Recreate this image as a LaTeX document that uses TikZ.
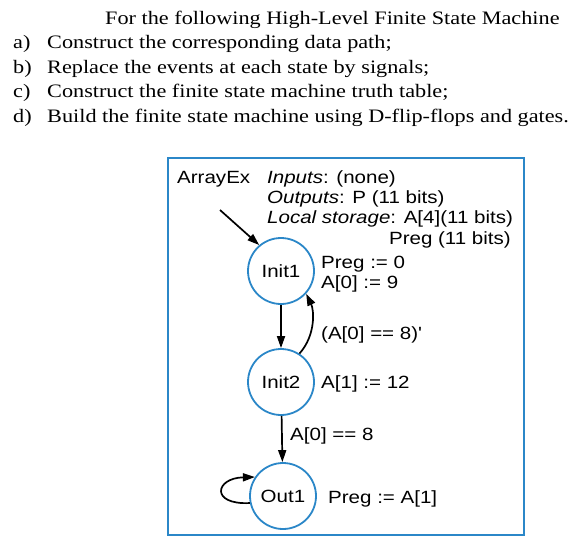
\documentclass[tikz,border=0pt]{standalone}
\usepackage{fontspec}
\setmainfont{Liberation Serif}
\newfontfamily\headfont[FakeStretch=1.17]{Liberation Serif}
\newfontfamily\boxfont[FakeStretch=1.16]{Liberation Sans}
\usetikzlibrary{arrows.meta}
\definecolor{fsmblue}{RGB}{43,135,200}
\tikzset{
  head/.style={anchor=base west, inner sep=0pt, font=\headfont\fontsize{19}{22}\selectfont},
  txt/.style={anchor=base west, inner sep=0pt, font=\boxfont\fontsize{17.7}{20}\selectfont},
  statenode/.style={circle, draw=fsmblue, line width=1.8pt, minimum size=66pt, inner sep=0pt, font=\boxfont\fontsize{17.7}{20}\selectfont},
  trans/.style={line width=1.7pt, -{Triangle[length=12pt,width=8pt]}},
}
\begin{document}
\begin{tikzpicture}[x=1pt,y=-1pt]
\useasboundingbox (0,0) rectangle (576,547);
% heading
\node[head] (h0) at (105,24) {For the following High-Level Finite State Machine};
\node[head] (la) at (13,48.5) {a)};
\node[head] (ta) at (47,48.5) {Construct the corresponding data path;};
\node[head] (lb) at (13,73) {b)};
\node[head] (tb) at (47,73) {Replace the events at each state by signals;};
\node[head] (lc) at (13,97.5) {c)};
\node[head] (tc) at (47,97.5) {Construct the finite state machine truth table;};
\node[head] (ld) at (13,122) {d)};
\node[head] (td) at (47,122) {Build the finite state machine using D-flip-flops and gates.};
% frame
\draw[fsmblue, line width=1.8pt] (168,158) rectangle (524,535);
% header texts
\node[txt] (name) at (177,183) {ArrayEx};
\node[txt] (inp) at (267,183) {\textit{Inputs}: (none)};
\node[txt] (outp) at (267,203) {\textit{Outputs}: P (11 bits)};
\node[txt] (loc) at (267,223) {\textit{Local storage}: A[4](11 bits)};
\node[txt, anchor=base east] (preg) at (511,244) {Preg (11 bits)};
% states
\node[statenode] (i1) at (281,271) {Init1};
\node[statenode] (i2) at (281,382) {Init2};
\node[statenode] (o1) at (283,496) {Out1};
% actions
\node[txt] (a1) at (321,268) {Preg := 0};
\node[txt] (a2) at (321,288) {A[0] := 9};
\node[txt] (a3) at (321,388) {A[1] := 12};
\node[txt] (a4) at (328,503) {Preg := A[1]};
% transitions
\coordinate (start) at (220,210);
\draw[trans] (start) -- (i1.130);
\draw[trans] (i1) -- (i2);
\draw[trans] (i2.57) .. controls (316,335) and (314,310) .. (i1.-42);
\node[txt] (c1) at (321,339) {(A[0] == 8)'};
\draw[trans] (i2) -- (o1);
\node[txt] (c2) at (290,440) {A[0] == 8};
\draw[trans] (o1.192) .. controls (210,505) and (215,478) .. (o1.146);
\end{tikzpicture}
\end{document}
